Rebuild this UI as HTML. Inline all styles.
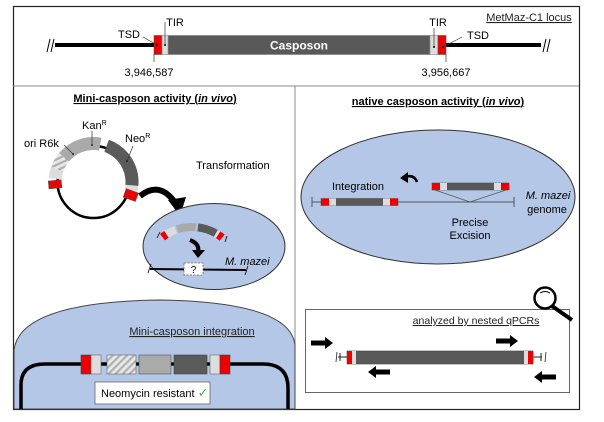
<!DOCTYPE html>
<html><head><meta charset="utf-8"><style>
html,body{margin:0;padding:0;background:#fff}
svg{display:block;font-family:"Liberation Sans",Arial,sans-serif}
</style></head><body>
<svg width="604" height="422" viewBox="0 0 604 422" xmlns="http://www.w3.org/2000/svg">
<defs>
<pattern id="hatch" width="5" height="5" patternUnits="userSpaceOnUse" patternTransform="rotate(45)">
<rect width="5" height="5" fill="#e8e8e8"/><rect width="2.2" height="5" fill="#b0b0b0"/></pattern>
</defs>
<!-- frames -->
<rect x="13.5" y="6.5" width="566" height="403" fill="none" stroke="#222" stroke-width="1.2"/>
<line x1="13" y1="86" x2="579" y2="86" stroke="#888" stroke-width="1"/>
<line x1="295" y1="86" x2="295" y2="409" stroke="#888" stroke-width="1"/>

<!-- top locus -->
<text x="529" y="21" font-size="11" text-anchor="middle" fill="#222" text-decoration="underline">MetMaz-C1 locus</text>
<line x1="55" y1="45" x2="154" y2="45" stroke="#000" stroke-width="4"/>
<line x1="446" y1="45" x2="541" y2="45" stroke="#000" stroke-width="4"/>
<line x1="47" y1="52" x2="50" y2="39" stroke="#000" stroke-width="1"/>
<line x1="51" y1="52" x2="54" y2="39" stroke="#000" stroke-width="1"/>
<line x1="543" y1="52" x2="546" y2="39" stroke="#000" stroke-width="1"/>
<line x1="547" y1="52" x2="550" y2="39" stroke="#000" stroke-width="1"/>
<rect x="168" y="35.5" width="262" height="19" fill="#595959" stroke="#888" stroke-width="0.8"/>
<rect x="154" y="35.5" width="8" height="19" fill="#e00" stroke="#555" stroke-width="0.6"/>
<rect x="162" y="35.5" width="6" height="19" fill="#ddd" stroke="#888" stroke-width="0.6"/>
<rect x="430" y="35.5" width="8" height="19" fill="#ddd" stroke="#888" stroke-width="0.6"/>
<rect x="438" y="35.5" width="8" height="19" fill="#e00" stroke="#555" stroke-width="0.6"/>
<text x="299" y="49.5" font-size="12" font-weight="bold" fill="#fff" text-anchor="middle">Casposon</text>
<text x="129" y="38" font-size="11" text-anchor="middle">TSD</text>
<line x1="143" y1="37" x2="157" y2="45" stroke="#333" stroke-width="0.7"/>
<circle cx="157" cy="45" r="1" fill="#000"/>
<text x="175" y="26" font-size="11" text-anchor="middle">TIR</text>
<line x1="165" y1="22" x2="165" y2="45" stroke="#333" stroke-width="0.7"/>
<circle cx="165" cy="45" r="1" fill="#000"/>
<text x="438" y="26" font-size="11" text-anchor="middle">TIR</text>
<line x1="434" y1="28" x2="434" y2="47" stroke="#333" stroke-width="0.7"/>
<circle cx="434" cy="47" r="1" fill="#000"/>
<text x="478" y="39" font-size="11" text-anchor="middle">TSD</text>
<line x1="462" y1="37" x2="443" y2="47" stroke="#333" stroke-width="0.7"/>
<circle cx="443" cy="47" r="1" fill="#000"/>
<line x1="154" y1="54" x2="154" y2="62" stroke="#333" stroke-width="0.7"/>
<line x1="446" y1="54" x2="446" y2="62" stroke="#333" stroke-width="0.7"/>
<text x="149" y="76" font-size="11" text-anchor="middle">3,946,587</text>
<text x="446" y="76" font-size="11" text-anchor="middle">3,956,667</text>

<!-- left panel -->
<text x="155" y="102" font-size="11" font-weight="bold" text-anchor="middle" text-decoration="underline">Mini-casposon activity (<tspan font-style="italic">in vivo</tspan>)</text>
<!-- plasmid -->
<circle cx="93.5" cy="182" r="36" fill="none" stroke="#000" stroke-width="2.5"/>
<g fill="none" stroke-width="13" transform="translate(93.5 182)">
<circle r="38.5" stroke="#aaa" stroke-dasharray="40.3 1000" transform="rotate(-140)"/>
<circle r="38.5" stroke="url(#hatch)" stroke-dasharray="13.4 1000" transform="rotate(-160)"/>
<circle r="38.5" stroke="#ddd" stroke-dasharray="10 1000" transform="rotate(-175)"/>
<circle r="38.5" stroke="#5a5a5a" stroke-dasharray="50.4 1000" transform="rotate(-70)"/>
<circle r="38.5" stroke="#ddd" stroke-dasharray="5.4 1000" transform="rotate(5)"/>
</g>
<g transform="translate(93.5 182)">
<rect x="-45" y="-5" width="13" height="8" fill="#e00" stroke="#555" stroke-width="0.5" transform="rotate(-5)"/>
<rect x="33" y="-5" width="13" height="9" fill="#e00" stroke="#555" stroke-width="0.5" transform="rotate(20)"/>
</g>
<circle cx="73" cy="154" r="0.9" fill="#000"/>
<circle cx="92" cy="145" r="0.9" fill="#000"/>
<circle cx="127" cy="161" r="0.9" fill="#000"/>
<line x1="92" y1="145" x2="92" y2="131" stroke="#333" stroke-width="0.7"/>
<line x1="127" y1="161" x2="133" y2="146" stroke="#333" stroke-width="0.7"/>
<line x1="73" y1="154" x2="64" y2="145" stroke="#333" stroke-width="0.7"/>
<text x="82" y="129" font-size="11">Kan<tspan font-size="7" dy="-4">R</tspan></text>
<text x="125" y="142" font-size="11">Neo<tspan font-size="7" dy="-4">R</tspan></text>
<text x="24" y="147" font-size="11">ori R6k</text>
<!-- curved arrow -->
<path d="M140 196 Q160 180 176 204" fill="none" stroke="#000" stroke-width="6"/>
<polygon points="168,200 186,197 180,216" fill="#000"/>
<text x="196" y="169" font-size="11">Transformation</text>
<!-- small ellipse -->
<ellipse cx="214" cy="246.5" rx="71" ry="43" fill="#b4c7e7" stroke="#333" stroke-width="1"/>
<g fill="none" stroke-width="8" transform="translate(192 275)" stroke-linecap="butt">
<circle r="48" stroke="#e00" stroke-dasharray="5 1000" transform="rotate(-128)"/>
<circle r="48" stroke="#ddd" stroke-dasharray="10 1000" transform="rotate(-122)"/>
<circle r="48" stroke="#aaa" stroke-dasharray="19 1000" transform="rotate(-108)"/>
<circle r="48" stroke="#5a5a5a" stroke-dasharray="19 1000" transform="rotate(-83)"/>
<circle r="48" stroke="#ddd" stroke-dasharray="3 1000" transform="rotate(-60)"/>
<circle r="48" stroke="#e00" stroke-dasharray="5 1000" transform="rotate(-57)"/>
</g>
<line x1="157" y1="238" x2="160" y2="232" stroke="#000" stroke-width="0.8"/>
<line x1="225" y1="242" x2="227" y2="236" stroke="#000" stroke-width="0.8"/>
<path d="M190 240 Q200 244 198 252" fill="none" stroke="#000" stroke-width="4"/>
<polygon points="192,250 205,250 198,258" fill="#000"/>
<text x="225" y="265" font-size="11" font-style="italic">M. mazei</text>
<line x1="150" y1="269" x2="246" y2="270" stroke="#000" stroke-width="2"/>
<line x1="148" y1="273" x2="151" y2="264" stroke="#000" stroke-width="0.8"/>
<line x1="245" y1="275" x2="248" y2="266" stroke="#000" stroke-width="0.8"/>
<rect x="184" y="263" width="19" height="12" fill="#fff" stroke="#666" stroke-width="0.8" stroke-dasharray="2 1.5"/>
<text x="193.5" y="273" font-size="10" text-anchor="middle">?</text>
<!-- bottom dome -->
<path d="M14 409 L14 350 Q20 302 160 300 Q290 302 295 345 L295 409 Z" fill="#b4c7e7" stroke="#444" stroke-width="1"/>
<text x="192" y="335" font-size="11" text-anchor="middle" text-decoration="underline" fill="#222">Mini-casposon integration</text>
<path d="M21 409 L21 385 Q21 364 45 364 L263 364 Q288 364 288 388 L288 409" fill="none" stroke="#000" stroke-width="3.5"/>
<rect x="81" y="355" width="10" height="19" fill="#e00" stroke="#444" stroke-width="0.6"/>
<rect x="91" y="355" width="10" height="19" fill="#ddd" stroke="#666" stroke-width="0.6"/>
<rect x="107" y="355" width="29" height="19" fill="url(#hatch)" stroke="#666" stroke-width="0.6"/>
<rect x="139" y="355" width="32" height="19" fill="#aaa" stroke="#555" stroke-width="0.6"/>
<rect x="174" y="355" width="33" height="19" fill="#5a5a5a" stroke="#444" stroke-width="0.6"/>
<rect x="210" y="355" width="10" height="19" fill="#ddd" stroke="#666" stroke-width="0.6"/>
<rect x="220" y="355" width="10" height="19" fill="#e00" stroke="#444" stroke-width="0.6"/>
<rect x="95" y="382" width="115" height="22" fill="#fff" stroke="#666" stroke-width="0.8"/>
<text x="101" y="397" font-size="11">Neomycin resistant <tspan fill="#4caf50" font-size="13">✓</tspan></text>

<!-- right panel -->
<text x="438" y="105" font-size="11" font-weight="bold" text-anchor="middle" text-decoration="underline">native casposon activity (<tspan font-style="italic">in vivo</tspan>)</text>
<ellipse cx="438" cy="197" rx="137" ry="67" fill="#b4c7e7" stroke="#333" stroke-width="1"/>
<text x="358" y="190" font-size="11" text-anchor="middle">Integration</text>
<line x1="312" y1="202" x2="514" y2="202" stroke="#555" stroke-width="1"/>
<line x1="312" y1="197" x2="312" y2="207" stroke="#555" stroke-width="1"/>
<line x1="514" y1="197" x2="514" y2="207" stroke="#555" stroke-width="1"/>
<rect x="321" y="198.5" width="77" height="7" fill="#595959" stroke="#444" stroke-width="0.5"/>
<rect x="321" y="198.5" width="8" height="7" fill="#e00"/><rect x="329" y="198.5" width="7" height="7" fill="#ddd"/>
<rect x="383" y="198.5" width="7" height="7" fill="#ddd"/><rect x="390" y="198.5" width="8" height="7" fill="#e00"/>
<line x1="432" y1="189" x2="470" y2="202" stroke="#555" stroke-width="0.7"/>
<line x1="509" y1="189" x2="470" y2="202" stroke="#555" stroke-width="0.7"/>
<rect x="432" y="183" width="77" height="7" fill="#595959" stroke="#444" stroke-width="0.5"/>
<rect x="432" y="183" width="8" height="7" fill="#e00"/><rect x="440" y="183" width="7" height="7" fill="#ddd"/>
<rect x="494" y="183" width="7" height="7" fill="#ddd"/><rect x="501" y="183" width="8" height="7" fill="#e00"/>
<path d="M417 182 Q414 174 405 177" fill="none" stroke="#000" stroke-width="2.5"/>
<polygon points="400,178 408,172 408,183" fill="#000"/>
<text x="470" y="226" font-size="11" text-anchor="middle">Precise</text>
<text x="470" y="239" font-size="11" text-anchor="middle">Excision</text>
<text x="548" y="199" font-size="11" text-anchor="middle" font-style="italic">M. mazei</text>
<text x="547" y="213" font-size="11" text-anchor="middle">genome</text>
<!-- qPCR box -->
<rect x="305.5" y="309.5" width="264" height="83" fill="#fff" stroke="#666" stroke-width="1"/>
<text x="476" y="324" font-size="10.5" text-anchor="middle" text-decoration="underline" fill="#222">analyzed by nested qPCRs</text>
<circle cx="545" cy="298" r="10.5" fill="#fff" stroke="#000" stroke-width="2.5"/>
<line x1="552" y1="306" x2="572" y2="320" stroke="#000" stroke-width="4"/>
<path d="M540 293 Q545 290 550 293" fill="none" stroke="#000" stroke-width="1"/>
<line x1="338" y1="357" x2="347" y2="357" stroke="#222" stroke-width="1"/>
<line x1="340" y1="353" x2="340" y2="361" stroke="#222" stroke-width="1"/>
<line x1="336" y1="362" x2="337" y2="352" stroke="#222" stroke-width="0.8"/>
<line x1="533" y1="357" x2="542" y2="357" stroke="#222" stroke-width="1"/>
<line x1="541" y1="353" x2="541" y2="361" stroke="#222" stroke-width="1"/>
<line x1="545" y1="362" x2="546" y2="352" stroke="#222" stroke-width="0.8"/>
<rect x="347" y="351" width="186" height="13" fill="#595959" stroke="#444" stroke-width="0.6"/>
<rect x="347" y="351" width="5" height="13" fill="#e00"/><rect x="352" y="351" width="4" height="13" fill="#ddd"/>
<rect x="524" y="351" width="4" height="13" fill="#ddd"/><rect x="528" y="351" width="5" height="13" fill="#e00"/>
<g fill="#000">
<polygon points="311,340.5 325,340.5 325,337 333,343 325,349 325,345.5 311,345.5"/>
<polygon points="496,338.5 510,338.5 510,335 518,341 510,347 510,343.5 496,343.5"/>
<polygon points="390,369.5 376,369.5 376,366 368,372 376,378 376,374.5 390,374.5"/>
<polygon points="556,374.5 542,374.5 542,371 534,377 542,383 542,379.5 556,379.5"/>
</g>
</svg>
</body></html>
